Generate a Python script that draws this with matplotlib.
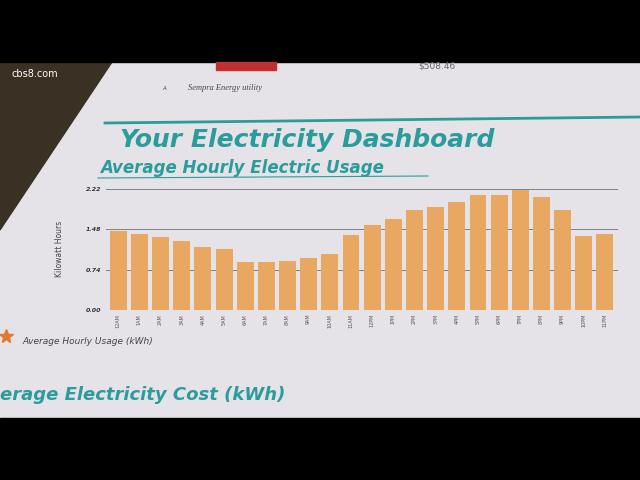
import matplotlib
matplotlib.use("Agg")
import matplotlib.pyplot as plt
from matplotlib.patches import Polygon, Rectangle

# hourly usage in kWh
hours = ["12AM", "1AM", "2AM", "3AM", "4AM", "5AM", "6AM", "7AM", "8AM", "9AM", "10AM", "11AM",
         "12PM", "1PM", "2PM", "3PM", "4PM", "5PM", "6PM", "7PM", "8PM", "9PM", "10PM", "11PM"]
usage = [1.45, 1.40, 1.34, 1.27, 1.16, 1.12, 0.87, 0.87, 0.89, 0.95, 1.03, 1.37,
         1.57, 1.68, 1.83, 1.90, 1.98, 2.12, 2.12, 2.20, 2.08, 1.84, 1.36, 1.40]
yticks = [0.00, 0.74, 1.48, 2.22]

teal = "#2b9c9c"
paper = "#e6e3e8"
bar_color = "#e8a862"

fig = plt.figure(figsize=(6.4, 4.8), dpi=100)
fig.patch.set_facecolor("black")

# paper + desk background, drawn in pixel coords
bg = fig.add_axes([0, 0, 1, 1])
bg.set_xlim(0, 640)
bg.set_ylim(480, 0)
bg.axis("off")
bg.add_patch(Rectangle((0, 62), 640, 356, color=paper, zorder=0))
bg.add_patch(Polygon([(0, 62), (112, 62), (0, 230)], color="#3b3024", zorder=1))
bg.add_patch(Rectangle((0, 0), 640, 62, color="black", zorder=2))
bg.add_patch(Rectangle((0, 418), 640, 62, color="black", zorder=2))
bg.text(12, 77, "cbs8.com", color="white", fontsize=7, zorder=3)
bg.add_patch(Rectangle((216, 62), 60, 8, color="#c03030", zorder=3))
bg.text(162, 90, "A", fontsize=4, style="italic", color="#444444", zorder=3)
bg.text(188, 90, "Sempra Energy utility", fontsize=6, style="italic",
        family="Liberation Serif", color="#444444", zorder=3)
bg.text(418, 68, "$508.46", fontsize=6.5, color="#666666", zorder=3)
bg.plot([105, 640], [123, 117], color=teal, lw=2, zorder=3)
bg.text(120, 140, "Your Electricity Dashboard", color=teal, fontsize=18,
        fontweight="bold", style="italic", va="center", zorder=3)
bg.text(100, 168, "Average Hourly Electric Usage", color=teal, fontsize=12,
        fontweight="bold", style="italic", va="center", zorder=3)
bg.plot([98, 428], [178, 176], color=teal, lw=0.8, zorder=3)
bg.plot(6, 336, marker="*", color="#e07a30", markersize=10, zorder=3)
bg.text(22, 342, "Average Hourly Usage (kWh)", fontsize=6.5, style="italic",
        color="#444444", va="center", zorder=3)
bg.text(0, 395, "erage Electricity Cost (kWh)", color=teal, fontsize=13,
        fontweight="bold", style="italic", va="center", zorder=3)

# the chart itself
ax = fig.add_axes([0.165, 0.355, 0.80, 0.255])
ax.set_facecolor("none")
x = range(len(usage))
ax.bar(x, usage, width=0.8, color=bar_color, zorder=2)
ax.set_ylim(0, 2.26)
ax.set_xlim(-0.6, len(usage) - 0.4)
ax.set_yticks(yticks)
ax.set_yticklabels(["%.2f" % v for v in yticks], fontsize=4.5, fontweight="bold",
                   style="italic", color="#333333")
ax.set_xticks(list(x))
ax.set_xticklabels(hours, rotation=90, fontsize=3.5, color="#555555")
ax.tick_params(length=0, pad=3)
ax.grid(axis="y", color="#7a8484", lw=0.7, zorder=1)
for s in ax.spines.values():
    s.set_visible(False)
ax.set_ylabel("Kilowatt Hours", fontsize=5.5, color="#444444", labelpad=16)

fig.savefig("out.png", dpi=100, facecolor=fig.get_facecolor())
